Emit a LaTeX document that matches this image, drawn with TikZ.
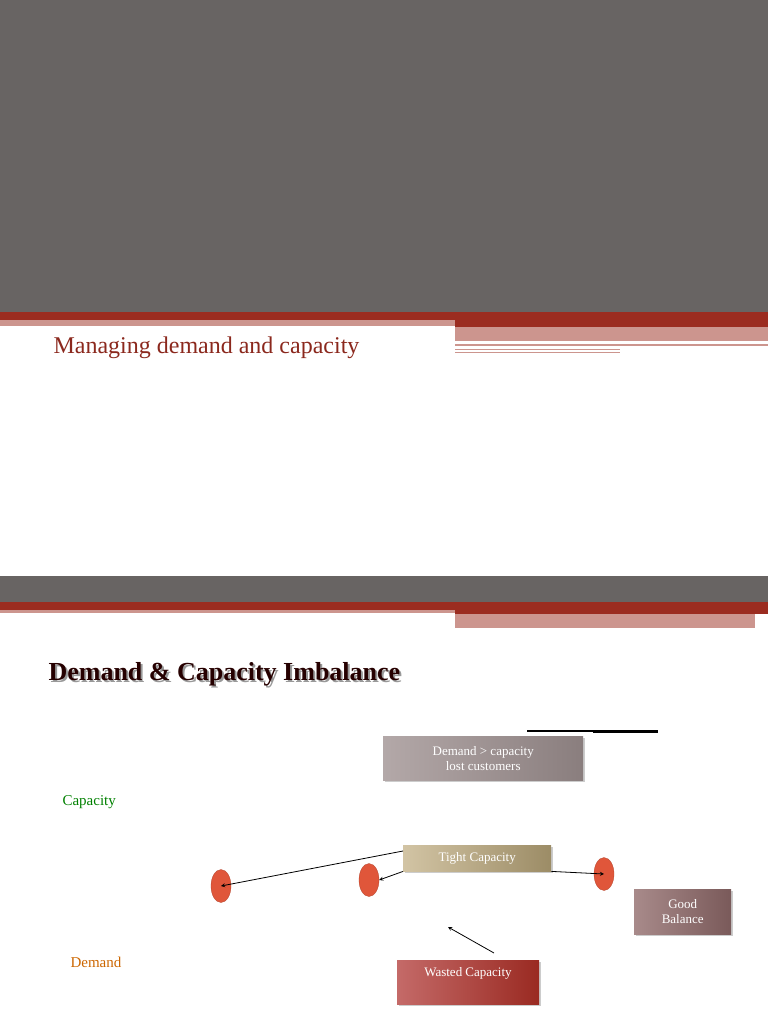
\documentclass[tikz,border=0pt]{standalone}
\usepackage{fontspec}
\usetikzlibrary{shapes.geometric}
\setmainfont{Liberation Serif}
\begin{document}
\begin{tikzpicture}[x=1pt,y=-1pt,
  box/.style={anchor=north west,inner sep=0pt,text=white,align=center,font=\fontsize{13}{15}\selectfont},
  dot/.style={ellipse,minimum width=20pt,minimum height=33pt,inner sep=0pt,fill=dotc,draw=dotc!80!black,line width=0.3pt},
  arr/.style={->,>=stealth,line width=0.8pt}]
\useasboundingbox (0,0) rectangle (768,1024);
\definecolor{slgray}{HTML}{686463}
\definecolor{slred}{HTML}{9B2C20}
\definecolor{slpink}{HTML}{CC958E}
\definecolor{dotc}{HTML}{E0563A}
\definecolor{b1l}{HTML}{B3A8A8}\definecolor{b1r}{HTML}{8A7E7E}
\definecolor{tcl}{HTML}{D2C4A4}\definecolor{tcr}{HTML}{9C8C66}
\definecolor{gbl}{HTML}{A88A8A}\definecolor{gbr}{HTML}{7A5A5A}
\definecolor{wcl}{HTML}{C46A68}\definecolor{wcr}{HTML}{9A2A22}
% slide 1
\fill[slgray] (0,0) rectangle (768,312);
\fill[slred] (0,312) rectangle (768,327);
\fill[slpink] (0,320) rectangle (455,326);
\fill[white] (0,326) rectangle (455,327);
\fill[slpink] (455,327) rectangle (768,341);
\fill[slpink] (455,344) rectangle (768,346);
\fill[slpink] (455,349) rectangle (620,350);
\fill[slpink] (455,352) rectangle (620,353);
\node[anchor=west,text=slred!90!black,font=\fontsize{24}{28}\selectfont] (t1) at (50,348) {Managing demand and capacity};
% slide 2
\fill[slgray] (0,576) rectangle (768,602);
\fill[slred] (0,602) rectangle (768,614);
\fill[slpink] (0,610) rectangle (455,613);
\fill[white] (0,613) rectangle (455,614);
\fill[slpink] (455,614) rectangle (755,628);
\node[anchor=west,text=black!40,font=\bfseries\fontsize{26}{30}\selectfont] at (47,676) {Demand \& Capacity Imbalance};
\node[anchor=west,text=black!85!red,font=\bfseries\fontsize{26}{30}\selectfont] (t2) at (45,674) {Demand \& Capacity Imbalance};
\draw[line width=1.5pt] (527,731) -- (593,731);
\draw[line width=3pt] (593,731) -- (658,731);
\node[anchor=west,text=green!50!black,font=\fontsize{15}{18}\selectfont] (cap) at (59,802) {Capacity};
\node[anchor=west,text=orange!80!black,font=\fontsize{15}{18}\selectfont] (dem) at (67,962) {Demand};
\fill[black!20] (385,738) rectangle (585,782);
\shade[left color=b1l, right color=b1r] (383,736) rectangle (583,780);
\node[box,minimum width=200pt,minimum height=44pt] (b1) at (383,736) {Demand > capacity\\lost customers};
\fill[black!20] (405,847) rectangle (553,873);
\shade[left color=tcl, right color=tcr] (403,845) rectangle (551,871);
\node[box,minimum width=148pt,minimum height=26pt] (tc) at (403,845) {Tight Capacity};
\fill[black!20] (636,891) rectangle (733,936);
\shade[left color=gbl, right color=gbr] (634,889) rectangle (731,934);
\node[box,minimum width=97pt,minimum height=45pt] (gb) at (634,889) {Good\\Balance};
\fill[black!20] (399,962) rectangle (541,1006);
\shade[left color=wcl, right color=wcr] (397,960) rectangle (539,1004);
\node[box,minimum width=142pt,minimum height=44pt,anchor=north west] (wc) at (397,960) {};
\node[text=white,font=\fontsize{13}{15}\selectfont] at (468,973) {Wasted Capacity};
\node[dot] (e1) at (221,886) {};
\node[dot] (e2) at (369,880) {};
\node[dot] (e3) at (604,874) {};
\coordinate (w0) at (494,953);
\coordinate (w1) at (448,927);
\draw[arr] (tc.north west) ++(0,6) -- (e1.center);
\draw[arr] (tc.south west) -- (e2.east);
\draw[arr] (tc.south east) -- (e3.center);
\draw[arr] (w0) -- (w1);
\end{tikzpicture}
\end{document}
